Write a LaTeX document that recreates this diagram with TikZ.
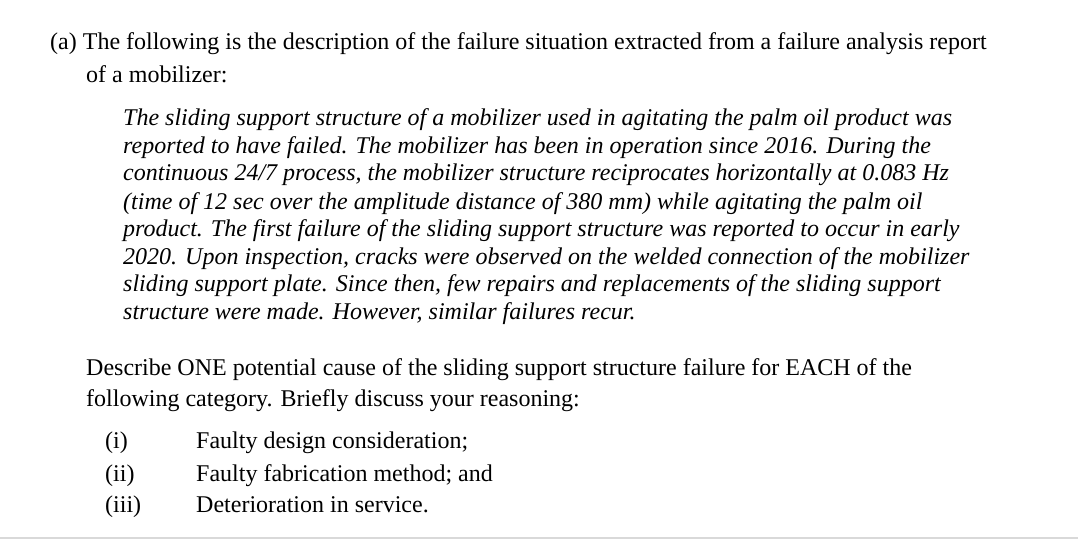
\documentclass[tikz,border=0pt]{standalone}
\usepackage{fontspec}
\setmainfont{Liberation Serif}
\begin{document}
\begin{tikzpicture}[x=1pt,y=-1pt,
  txt/.style={anchor=base west,inner sep=0pt,font=\fontsize{24}{28}\selectfont},
  itx/.style={txt,font=\fontsize{24}{28}\selectfont\itshape}]
\useasboundingbox (0,0) rectangle (1078,540);
\draw[gray!30,line width=1.5pt] (0,538) -- (1078,538);
\node[txt] (h1) at (50,50) {(a) The following is the description of the failure situation extracted from a failure analysis report};
\node[txt] (h2) at (86,83) {of a mobilizer:};
\node[itx] (p1) at (123,126) {The sliding support structure of a mobilizer used in agitating the palm oil product was};
\node[itx] (p2) at (123,154) {reported to have failed. The mobilizer has been in operation since 2016. During the};
\node[itx] (p3) at (123,181) {continuous 24/7 process, the mobilizer structure reciprocates horizontally at 0.083 Hz};
\node[itx] (p4) at (123,209) {(time of 12 sec over the amplitude distance of 380 mm) while agitating the palm oil};
\node[itx] (p5) at (123,236) {product. The first failure of the sliding support structure was reported to occur in early};
\node[itx] (p6) at (123,264) {2020. Upon inspection, cracks were observed on the welded connection of the mobilizer};
\node[itx] (p7) at (123,291) {sliding support plate. Since then, few repairs and replacements of the sliding support};
\node[itx] (p8) at (123,319) {structure were made. However, similar failures recur.};
\node[txt] (d1) at (86,375) {Describe ONE potential cause of the sliding support structure failure for EACH of the};
\node[txt] (d2) at (86,406) {following category. Briefly discuss your reasoning:};
\node[txt] (l1) at (105,448) {(i)};
\node[txt] (t1) at (196,448) {Faulty design consideration;};
\node[txt] (l2) at (105,481) {(ii)};
\node[txt] (t2) at (196,481) {Faulty fabrication method; and};
\node[txt] (l3) at (105,512) {(iii)};
\node[txt] (t3) at (196,512) {Deterioration in service.};
\end{tikzpicture}
\end{document}
